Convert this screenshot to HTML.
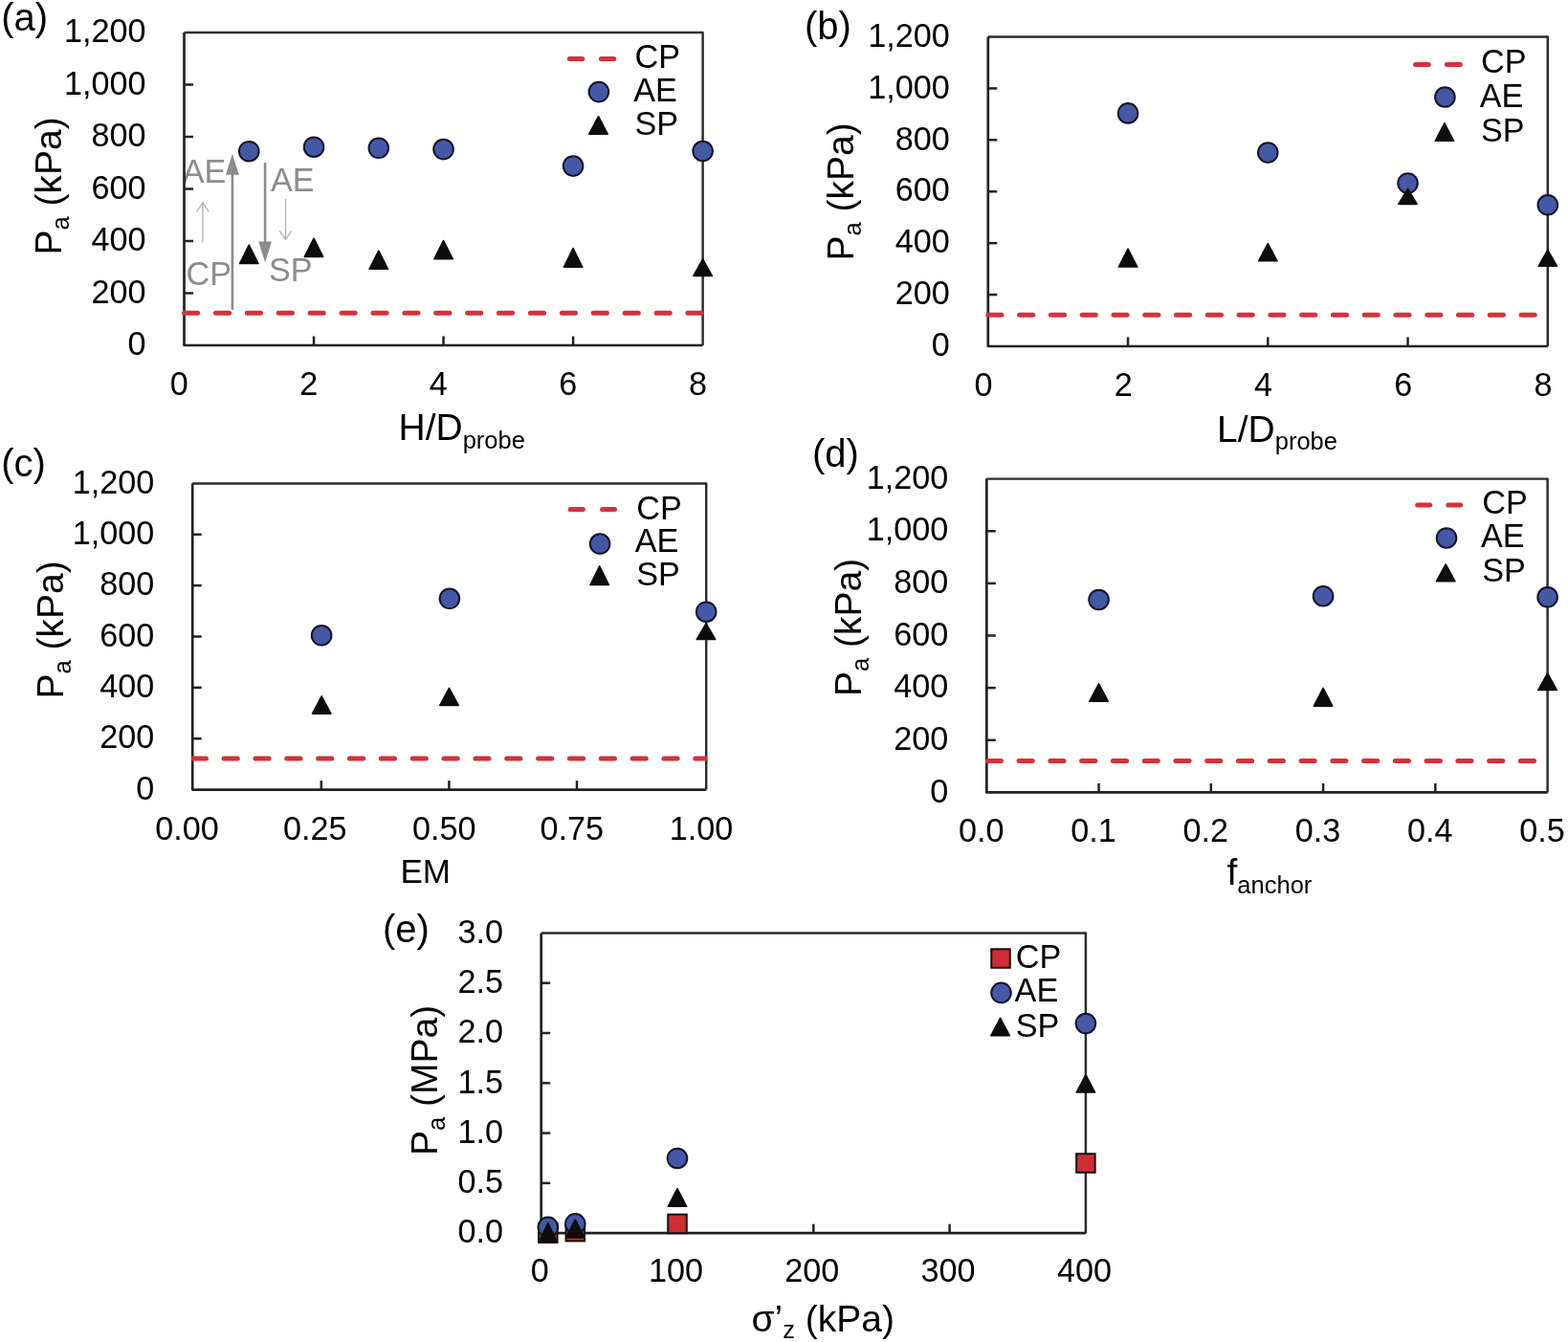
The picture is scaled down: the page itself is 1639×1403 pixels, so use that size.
<!DOCTYPE html>
<html><head><meta charset="utf-8"><title>Figure</title>
<style>html,body{margin:0;padding:0;background:#fff;}body{width:1639px;height:1403px;overflow:hidden;}svg{display:block;}</style>
</head><body>
<svg width="1639" height="1403" viewBox="0 0 1639 1403" font-family='"Liberation Sans", Arial, Helvetica, sans-serif'>
<rect width="1639" height="1403" fill="#fff"/>
<g fill="#8c8c8c" font-size="34.2">
<text x="236.3" y="190.6" text-anchor="end">AE</text><text x="194.6" y="298.4">CP</text>
<text x="283.0" y="200.3">AE</text><text x="280.9" y="293.6">SP</text>
</g>
<line x1="242.9" y1="323.9" x2="242.9" y2="180" stroke="#8c8c8c" stroke-width="2.6"/>
<polygon points="242.9,160.8 249.8,182.8 236.0,182.8" fill="#8c8c8c"/>
<line x1="277.1" y1="170.2" x2="277.1" y2="256" stroke="#8c8c8c" stroke-width="2.6"/>
<polygon points="277.1,274.6 270.3,252.6 283.9,252.6" fill="#8c8c8c"/>
<path d="M211.9,253.6 V211.8 M205.6,221.5 L211.9,211.8 L218.2,221.5" fill="none" stroke="#b2b2b2" stroke-width="1.3"/>
<path d="M298.5,208.1 V250.4 M292.2,241.3 L298.5,250.4 L304.8,241.3" fill="none" stroke="#b2b2b2" stroke-width="1.3"/>
<path d="M192.5,34.0 H734.60 V361.00" fill="none" stroke="#2c2c2c" stroke-width="2.45" stroke-linejoin="round"/>
<path d="M734.60,361.00 H192.5 V34.0" fill="none" stroke="#222" stroke-width="2.7" stroke-linejoin="round"/>
<line x1="192.5" y1="306.50" x2="202.0" y2="306.50" stroke="#222" stroke-width="2.5"/>
<line x1="192.5" y1="252.00" x2="202.0" y2="252.00" stroke="#222" stroke-width="2.5"/>
<line x1="192.5" y1="197.50" x2="202.0" y2="197.50" stroke="#222" stroke-width="2.5"/>
<line x1="192.5" y1="143.00" x2="202.0" y2="143.00" stroke="#222" stroke-width="2.5"/>
<line x1="192.5" y1="88.50" x2="202.0" y2="88.50" stroke="#222" stroke-width="2.5"/>
<line x1="328.02" y1="361.0" x2="328.02" y2="351.5" stroke="#222" stroke-width="2.5"/>
<line x1="463.55" y1="361.0" x2="463.55" y2="351.5" stroke="#222" stroke-width="2.5"/>
<line x1="599.08" y1="361.0" x2="599.08" y2="351.5" stroke="#222" stroke-width="2.5"/>
<clipPath id="c1"><rect x="189.50" y="322.3" width="546.30" height="10"/></clipPath>
<line clip-path="url(#c1)" x1="192.50" y1="327.3" x2="734.60" y2="327.3" stroke="#d3323b" stroke-width="5" stroke-linecap="round" stroke-dasharray="14.20 18.70" stroke-dashoffset="0"/>
<circle cx="260.26" cy="158.20" r="10.3" fill="#4558a6" stroke="#141428" stroke-width="2"/>
<circle cx="328.02" cy="153.70" r="10.3" fill="#4558a6" stroke="#141428" stroke-width="2"/>
<circle cx="395.79" cy="154.80" r="10.3" fill="#4558a6" stroke="#141428" stroke-width="2"/>
<circle cx="463.55" cy="156.10" r="10.3" fill="#4558a6" stroke="#141428" stroke-width="2"/>
<circle cx="599.08" cy="173.60" r="10.3" fill="#4558a6" stroke="#141428" stroke-width="2"/>
<circle cx="734.60" cy="158.00" r="10.3" fill="#4558a6" stroke="#141428" stroke-width="2"/>
<polygon points="260.26,256.20 269.96,275.50 250.56,275.50" fill="#0d0d0d" stroke="#0d0d0d" stroke-width="1.6" stroke-linejoin="round"/>
<polygon points="328.02,249.20 337.72,268.50 318.32,268.50" fill="#0d0d0d" stroke="#0d0d0d" stroke-width="1.6" stroke-linejoin="round"/>
<polygon points="395.79,262.10 405.49,281.30 386.09,281.30" fill="#0d0d0d" stroke="#0d0d0d" stroke-width="1.6" stroke-linejoin="round"/>
<polygon points="463.55,251.50 473.25,270.80 453.85,270.80" fill="#0d0d0d" stroke="#0d0d0d" stroke-width="1.6" stroke-linejoin="round"/>
<polygon points="599.08,259.60 608.78,279.30 589.38,279.30" fill="#0d0d0d" stroke="#0d0d0d" stroke-width="1.6" stroke-linejoin="round"/>
<polygon points="734.60,270.80 744.30,288.50 724.90,288.50" fill="#0d0d0d" stroke="#0d0d0d" stroke-width="1.6" stroke-linejoin="round"/>
<line x1="595.40" y1="61.6" x2="608.80" y2="61.6" stroke="#d3323b" stroke-width="5" stroke-linecap="round"/>
<line x1="628.40" y1="61.6" x2="641.70" y2="61.6" stroke="#d3323b" stroke-width="5" stroke-linecap="round"/>
<circle cx="625.90" cy="96.10" r="10.3" fill="#4558a6" stroke="#141428" stroke-width="2"/>
<polygon points="625.50,121.70 635.20,140.20 615.80,140.20" fill="#0d0d0d" stroke="#0d0d0d" stroke-width="1.6" stroke-linejoin="round"/>
<text x="663.50" y="70.90" font-size="34.2" text-anchor="start" fill="#000">CP</text>
<text x="662.30" y="106.10" font-size="34.2" text-anchor="start" fill="#000">AE</text>
<text x="663.50" y="140.80" font-size="34.2" text-anchor="start" fill="#000">SP</text>
<text x="152.50" y="371.20" font-size="34.2" text-anchor="end" fill="#000">0</text>
<text x="152.50" y="316.70" font-size="34.2" text-anchor="end" fill="#000">200</text>
<text x="152.50" y="262.20" font-size="34.2" text-anchor="end" fill="#000">400</text>
<text x="152.50" y="207.70" font-size="34.2" text-anchor="end" fill="#000">600</text>
<text x="152.50" y="153.20" font-size="34.2" text-anchor="end" fill="#000">800</text>
<text x="152.50" y="98.70" font-size="34.2" text-anchor="end" fill="#000">1,000</text>
<text x="152.50" y="44.20" font-size="34.2" text-anchor="end" fill="#000">1,200</text>
<text x="187.30" y="413.20" font-size="34.2" text-anchor="middle" fill="#000">0</text>
<text x="322.82" y="413.20" font-size="34.2" text-anchor="middle" fill="#000">2</text>
<text x="458.35" y="413.20" font-size="34.2" text-anchor="middle" fill="#000">4</text>
<text x="593.88" y="413.20" font-size="34.2" text-anchor="middle" fill="#000">6</text>
<text x="729.40" y="413.20" font-size="34.2" text-anchor="middle" fill="#000">8</text>
<text x="1.30" y="31.90" font-size="40" text-anchor="start" fill="#000">(a)</text>
<text transform="translate(64.20,266.50) rotate(-90)" font-size="39" fill="#000">P<tspan font-size="25.5" dy="8">a</tspan><tspan dy="-8"> (kPa)</tspan></text>
<text x="416.5" y="460" font-size="39">H/D<tspan font-size="25.5" dy="8.5">probe</tspan></text>
<path d="M1032.8,38.5 H1617.80 V362.00" fill="none" stroke="#2c2c2c" stroke-width="2.45" stroke-linejoin="round"/>
<path d="M1617.80,362.00 H1032.8 V38.5" fill="none" stroke="#222" stroke-width="2.7" stroke-linejoin="round"/>
<line x1="1032.8" y1="308.08" x2="1042.3" y2="308.08" stroke="#222" stroke-width="2.5"/>
<line x1="1032.8" y1="254.17" x2="1042.3" y2="254.17" stroke="#222" stroke-width="2.5"/>
<line x1="1032.8" y1="200.25" x2="1042.3" y2="200.25" stroke="#222" stroke-width="2.5"/>
<line x1="1032.8" y1="146.33" x2="1042.3" y2="146.33" stroke="#222" stroke-width="2.5"/>
<line x1="1032.8" y1="92.42" x2="1042.3" y2="92.42" stroke="#222" stroke-width="2.5"/>
<line x1="1179.05" y1="362.0" x2="1179.05" y2="352.5" stroke="#222" stroke-width="2.5"/>
<line x1="1325.30" y1="362.0" x2="1325.30" y2="352.5" stroke="#222" stroke-width="2.5"/>
<line x1="1471.55" y1="362.0" x2="1471.55" y2="352.5" stroke="#222" stroke-width="2.5"/>
<clipPath id="c2"><rect x="1029.80" y="324.3" width="589.20" height="10"/></clipPath>
<line clip-path="url(#c2)" x1="1032.80" y1="329.3" x2="1617.80" y2="329.3" stroke="#d3323b" stroke-width="5" stroke-linecap="round" stroke-dasharray="14.20 18.58" stroke-dashoffset="0"/>
<circle cx="1179.05" cy="118.40" r="10.3" fill="#4558a6" stroke="#141428" stroke-width="2"/>
<circle cx="1325.30" cy="159.60" r="10.3" fill="#4558a6" stroke="#141428" stroke-width="2"/>
<circle cx="1471.55" cy="191.60" r="10.3" fill="#4558a6" stroke="#141428" stroke-width="2"/>
<circle cx="1617.80" cy="214.30" r="10.3" fill="#4558a6" stroke="#141428" stroke-width="2"/>
<polygon points="1179.05,260.10 1188.75,279.00 1169.35,279.00" fill="#0d0d0d" stroke="#0d0d0d" stroke-width="1.6" stroke-linejoin="round"/>
<polygon points="1325.30,254.50 1335.00,272.80 1315.60,272.80" fill="#0d0d0d" stroke="#0d0d0d" stroke-width="1.6" stroke-linejoin="round"/>
<polygon points="1471.55,197.30 1481.25,213.50 1461.85,213.50" fill="#0d0d0d" stroke="#0d0d0d" stroke-width="1.6" stroke-linejoin="round"/>
<polygon points="1617.80,261.40 1627.50,278.30 1608.10,278.30" fill="#0d0d0d" stroke="#0d0d0d" stroke-width="1.6" stroke-linejoin="round"/>
<line x1="1479.50" y1="67.4" x2="1493.30" y2="67.4" stroke="#d3323b" stroke-width="5" stroke-linecap="round"/>
<line x1="1512.40" y1="67.4" x2="1526.30" y2="67.4" stroke="#d3323b" stroke-width="5" stroke-linecap="round"/>
<circle cx="1510.40" cy="101.50" r="10.3" fill="#4558a6" stroke="#141428" stroke-width="2"/>
<polygon points="1509.90,128.80 1519.60,147.30 1500.20,147.30" fill="#0d0d0d" stroke="#0d0d0d" stroke-width="1.6" stroke-linejoin="round"/>
<text x="1548.00" y="76.00" font-size="34.2" text-anchor="start" fill="#000">CP</text>
<text x="1546.80" y="112.00" font-size="34.2" text-anchor="start" fill="#000">AE</text>
<text x="1548.00" y="148.40" font-size="34.2" text-anchor="start" fill="#000">SP</text>
<text x="992.80" y="372.20" font-size="34.2" text-anchor="end" fill="#000">0</text>
<text x="992.80" y="318.28" font-size="34.2" text-anchor="end" fill="#000">200</text>
<text x="992.80" y="264.37" font-size="34.2" text-anchor="end" fill="#000">400</text>
<text x="992.80" y="210.45" font-size="34.2" text-anchor="end" fill="#000">600</text>
<text x="992.80" y="156.53" font-size="34.2" text-anchor="end" fill="#000">800</text>
<text x="992.80" y="102.62" font-size="34.2" text-anchor="end" fill="#000">1,000</text>
<text x="992.80" y="48.70" font-size="34.2" text-anchor="end" fill="#000">1,200</text>
<text x="1028.00" y="413.50" font-size="34.2" text-anchor="middle" fill="#000">0</text>
<text x="1174.25" y="413.50" font-size="34.2" text-anchor="middle" fill="#000">2</text>
<text x="1320.50" y="413.50" font-size="34.2" text-anchor="middle" fill="#000">4</text>
<text x="1466.75" y="413.50" font-size="34.2" text-anchor="middle" fill="#000">6</text>
<text x="1613.00" y="413.50" font-size="34.2" text-anchor="middle" fill="#000">8</text>
<text x="841.00" y="40.70" font-size="40" text-anchor="start" fill="#000">(b)</text>
<text transform="translate(892.00,272.50) rotate(-90)" font-size="39" fill="#000">P<tspan font-size="25.5" dy="8">a</tspan><tspan dy="-8"> (kPa)</tspan></text>
<text x="1272" y="461.5" font-size="39">L/D<tspan font-size="25.5" dy="8.5">probe</tspan></text>
<path d="M201.2,505.4 H738.20 V825.60" fill="none" stroke="#2c2c2c" stroke-width="2.45" stroke-linejoin="round"/>
<path d="M738.20,825.60 H201.2 V505.4" fill="none" stroke="#222" stroke-width="2.7" stroke-linejoin="round"/>
<line x1="201.2" y1="772.23" x2="210.7" y2="772.23" stroke="#222" stroke-width="2.5"/>
<line x1="201.2" y1="718.87" x2="210.7" y2="718.87" stroke="#222" stroke-width="2.5"/>
<line x1="201.2" y1="665.50" x2="210.7" y2="665.50" stroke="#222" stroke-width="2.5"/>
<line x1="201.2" y1="612.13" x2="210.7" y2="612.13" stroke="#222" stroke-width="2.5"/>
<line x1="201.2" y1="558.77" x2="210.7" y2="558.77" stroke="#222" stroke-width="2.5"/>
<line x1="335.80" y1="825.6" x2="335.80" y2="816.1" stroke="#222" stroke-width="2.5"/>
<line x1="469.40" y1="825.6" x2="469.40" y2="816.1" stroke="#222" stroke-width="2.5"/>
<line x1="603.00" y1="825.6" x2="603.00" y2="816.1" stroke="#222" stroke-width="2.5"/>
<clipPath id="c3"><rect x="199.90" y="788.0" width="539.50" height="10"/></clipPath>
<line clip-path="url(#c3)" x1="201.20" y1="793.0" x2="738.20" y2="793.0" stroke="#d3323b" stroke-width="5" stroke-linecap="round" stroke-dasharray="14.20 18.65" stroke-dashoffset="0"/>
<circle cx="336.10" cy="664.30" r="10.3" fill="#4558a6" stroke="#141428" stroke-width="2"/>
<circle cx="469.90" cy="625.80" r="10.3" fill="#4558a6" stroke="#141428" stroke-width="2"/>
<circle cx="738.20" cy="639.70" r="10.3" fill="#4558a6" stroke="#141428" stroke-width="2"/>
<polygon points="336.20,727.90 345.90,746.10 326.50,746.10" fill="#0d0d0d" stroke="#0d0d0d" stroke-width="1.6" stroke-linejoin="round"/>
<polygon points="469.50,719.40 479.20,737.50 459.80,737.50" fill="#0d0d0d" stroke="#0d0d0d" stroke-width="1.6" stroke-linejoin="round"/>
<polygon points="738.00,652.00 747.70,668.50 728.30,668.50" fill="#0d0d0d" stroke="#0d0d0d" stroke-width="1.6" stroke-linejoin="round"/>
<line x1="596.20" y1="532.4" x2="609.30" y2="532.4" stroke="#d3323b" stroke-width="5" stroke-linecap="round"/>
<line x1="629.60" y1="532.4" x2="642.50" y2="532.4" stroke="#d3323b" stroke-width="5" stroke-linecap="round"/>
<circle cx="627.10" cy="568.60" r="10.3" fill="#4558a6" stroke="#141428" stroke-width="2"/>
<polygon points="626.70,591.80 636.40,611.50 617.00,611.50" fill="#0d0d0d" stroke="#0d0d0d" stroke-width="1.6" stroke-linejoin="round"/>
<text x="665.20" y="542.50" font-size="34.2" text-anchor="start" fill="#000">CP</text>
<text x="663.70" y="576.80" font-size="34.2" text-anchor="start" fill="#000">AE</text>
<text x="665.20" y="612.00" font-size="34.2" text-anchor="start" fill="#000">SP</text>
<text x="161.30" y="835.80" font-size="34.2" text-anchor="end" fill="#000">0</text>
<text x="161.30" y="782.43" font-size="34.2" text-anchor="end" fill="#000">200</text>
<text x="161.30" y="729.07" font-size="34.2" text-anchor="end" fill="#000">400</text>
<text x="161.30" y="675.70" font-size="34.2" text-anchor="end" fill="#000">600</text>
<text x="161.30" y="622.33" font-size="34.2" text-anchor="end" fill="#000">800</text>
<text x="161.30" y="568.97" font-size="34.2" text-anchor="end" fill="#000">1,000</text>
<text x="161.30" y="515.60" font-size="34.2" text-anchor="end" fill="#000">1,200</text>
<text x="195.60" y="878.30" font-size="34.2" text-anchor="middle" fill="#000">0.00</text>
<text x="329.20" y="878.30" font-size="34.2" text-anchor="middle" fill="#000">0.25</text>
<text x="464.30" y="878.30" font-size="34.2" text-anchor="middle" fill="#000">0.50</text>
<text x="597.70" y="878.30" font-size="34.2" text-anchor="middle" fill="#000">0.75</text>
<text x="733.00" y="878.30" font-size="34.2" text-anchor="middle" fill="#000">1.00</text>
<text x="1.30" y="497.60" font-size="40" text-anchor="start" fill="#000">(c)</text>
<text transform="translate(65.80,730.50) rotate(-90)" font-size="39" fill="#000">P<tspan font-size="25.5" dy="8">a</tspan><tspan dy="-8"> (kPa)</tspan></text>
<text x="418.50" y="922.60" font-size="35" text-anchor="start" fill="#000">EM</text>
<path d="M1031.3,500.6 H1617.60 V828.40" fill="none" stroke="#2c2c2c" stroke-width="2.45" stroke-linejoin="round"/>
<path d="M1617.60,828.40 H1031.3 V500.6" fill="none" stroke="#222" stroke-width="2.7" stroke-linejoin="round"/>
<line x1="1031.3" y1="773.77" x2="1040.8" y2="773.77" stroke="#222" stroke-width="2.5"/>
<line x1="1031.3" y1="719.13" x2="1040.8" y2="719.13" stroke="#222" stroke-width="2.5"/>
<line x1="1031.3" y1="664.50" x2="1040.8" y2="664.50" stroke="#222" stroke-width="2.5"/>
<line x1="1031.3" y1="609.87" x2="1040.8" y2="609.87" stroke="#222" stroke-width="2.5"/>
<line x1="1031.3" y1="555.23" x2="1040.8" y2="555.23" stroke="#222" stroke-width="2.5"/>
<line x1="1148.56" y1="828.4" x2="1148.56" y2="818.9" stroke="#222" stroke-width="2.5"/>
<line x1="1265.82" y1="828.4" x2="1265.82" y2="818.9" stroke="#222" stroke-width="2.5"/>
<line x1="1383.08" y1="828.4" x2="1383.08" y2="818.9" stroke="#222" stroke-width="2.5"/>
<line x1="1500.34" y1="828.4" x2="1500.34" y2="818.9" stroke="#222" stroke-width="2.5"/>
<clipPath id="c4"><rect x="1030.00" y="790.6" width="588.80" height="10"/></clipPath>
<line clip-path="url(#c4)" x1="1031.30" y1="795.6" x2="1617.60" y2="795.6" stroke="#d3323b" stroke-width="5" stroke-linecap="round" stroke-dasharray="14.20 18.57" stroke-dashoffset="-1"/>
<circle cx="1148.56" cy="627.00" r="10.3" fill="#4558a6" stroke="#141428" stroke-width="2"/>
<circle cx="1383.08" cy="623.20" r="10.3" fill="#4558a6" stroke="#141428" stroke-width="2"/>
<circle cx="1617.60" cy="624.30" r="10.3" fill="#4558a6" stroke="#141428" stroke-width="2"/>
<polygon points="1148.56,714.90 1158.26,733.20 1138.86,733.20" fill="#0d0d0d" stroke="#0d0d0d" stroke-width="1.6" stroke-linejoin="round"/>
<polygon points="1383.08,719.30 1392.78,738.10 1373.38,738.10" fill="#0d0d0d" stroke="#0d0d0d" stroke-width="1.6" stroke-linejoin="round"/>
<polygon points="1617.60,703.80 1627.30,721.50 1607.90,721.50" fill="#0d0d0d" stroke="#0d0d0d" stroke-width="1.6" stroke-linejoin="round"/>
<line x1="1481.70" y1="528.0" x2="1494.70" y2="528.0" stroke="#d3323b" stroke-width="5" stroke-linecap="round"/>
<line x1="1513.80" y1="528.0" x2="1526.70" y2="528.0" stroke="#d3323b" stroke-width="5" stroke-linecap="round"/>
<circle cx="1512.00" cy="562.50" r="10.3" fill="#4558a6" stroke="#141428" stroke-width="2"/>
<polygon points="1511.20,590.00 1520.90,607.70 1501.50,607.70" fill="#0d0d0d" stroke="#0d0d0d" stroke-width="1.6" stroke-linejoin="round"/>
<text x="1549.20" y="537.00" font-size="34.2" text-anchor="start" fill="#000">CP</text>
<text x="1548.00" y="572.40" font-size="34.2" text-anchor="start" fill="#000">AE</text>
<text x="1549.20" y="607.50" font-size="34.2" text-anchor="start" fill="#000">SP</text>
<text x="991.30" y="838.60" font-size="34.2" text-anchor="end" fill="#000">0</text>
<text x="991.30" y="783.97" font-size="34.2" text-anchor="end" fill="#000">200</text>
<text x="991.30" y="729.33" font-size="34.2" text-anchor="end" fill="#000">400</text>
<text x="991.30" y="674.70" font-size="34.2" text-anchor="end" fill="#000">600</text>
<text x="991.30" y="620.07" font-size="34.2" text-anchor="end" fill="#000">800</text>
<text x="991.30" y="565.43" font-size="34.2" text-anchor="end" fill="#000">1,000</text>
<text x="991.30" y="510.80" font-size="34.2" text-anchor="end" fill="#000">1,200</text>
<text x="1025.80" y="880.00" font-size="34.2" text-anchor="middle" fill="#000">0.0</text>
<text x="1143.06" y="880.00" font-size="34.2" text-anchor="middle" fill="#000">0.1</text>
<text x="1260.32" y="880.00" font-size="34.2" text-anchor="middle" fill="#000">0.2</text>
<text x="1377.58" y="880.00" font-size="34.2" text-anchor="middle" fill="#000">0.3</text>
<text x="1494.84" y="880.00" font-size="34.2" text-anchor="middle" fill="#000">0.4</text>
<text x="1612.10" y="880.00" font-size="34.2" text-anchor="middle" fill="#000">0.5</text>
<text x="849.00" y="488.00" font-size="40" text-anchor="start" fill="#000">(d)</text>
<text transform="translate(899.90,728.00) rotate(-90)" font-size="39" fill="#000">P<tspan font-size="25.5" dy="8">a</tspan><tspan dy="-8"> (kPa)</tspan></text>
<text x="1282.5" y="925" font-size="39">f<tspan font-size="25.5" dy="8.5">anchor</tspan></text>
<path d="M565.7,975.4 H1134.90 V1289.20" fill="none" stroke="#2c2c2c" stroke-width="2.45" stroke-linejoin="round"/>
<path d="M1134.90,1289.20 H565.7 V975.4" fill="none" stroke="#222" stroke-width="2.7" stroke-linejoin="round"/>
<line x1="565.7" y1="1236.90" x2="575.2" y2="1236.90" stroke="#222" stroke-width="2.5"/>
<line x1="565.7" y1="1184.60" x2="575.2" y2="1184.60" stroke="#222" stroke-width="2.5"/>
<line x1="565.7" y1="1132.30" x2="575.2" y2="1132.30" stroke="#222" stroke-width="2.5"/>
<line x1="565.7" y1="1080.00" x2="575.2" y2="1080.00" stroke="#222" stroke-width="2.5"/>
<line x1="565.7" y1="1027.70" x2="575.2" y2="1027.70" stroke="#222" stroke-width="2.5"/>
<line x1="708.00" y1="1289.2" x2="708.00" y2="1279.7" stroke="#222" stroke-width="2.5"/>
<line x1="850.30" y1="1289.2" x2="850.30" y2="1279.7" stroke="#222" stroke-width="2.5"/>
<line x1="992.60" y1="1289.2" x2="992.60" y2="1279.7" stroke="#222" stroke-width="2.5"/>
<rect x="563.07" y="1279.25" width="19.5" height="19.5" fill="#cf2d34" stroke="#111" stroke-width="2"/>
<rect x="591.53" y="1277.95" width="19.5" height="19.5" fill="#cf2d34" stroke="#111" stroke-width="2"/>
<rect x="698.25" y="1269.65" width="19.5" height="19.5" fill="#cf2d34" stroke="#111" stroke-width="2"/>
<rect x="1125.15" y="1206.25" width="19.5" height="19.5" fill="#cf2d34" stroke="#111" stroke-width="2"/>
<circle cx="572.82" cy="1282.90" r="10.3" fill="#4558a6" stroke="#141428" stroke-width="2"/>
<circle cx="601.28" cy="1279.40" r="10.3" fill="#4558a6" stroke="#141428" stroke-width="2"/>
<circle cx="708.00" cy="1211.00" r="10.3" fill="#4558a6" stroke="#141428" stroke-width="2"/>
<circle cx="1134.90" cy="1070.00" r="10.3" fill="#4558a6" stroke="#141428" stroke-width="2"/>
<polygon points="572.82,1278.60 582.52,1299.20 563.12,1299.20" fill="#0d0d0d" stroke="#0d0d0d" stroke-width="1.6" stroke-linejoin="round"/>
<polygon points="601.28,1275.10 610.98,1294.00 591.58,1294.00" fill="#0d0d0d" stroke="#0d0d0d" stroke-width="1.6" stroke-linejoin="round"/>
<polygon points="708.00,1242.60 717.70,1261.30 698.30,1261.30" fill="#0d0d0d" stroke="#0d0d0d" stroke-width="1.6" stroke-linejoin="round"/>
<polygon points="1134.90,1123.70 1144.60,1142.00 1125.20,1142.00" fill="#0d0d0d" stroke="#0d0d0d" stroke-width="1.6" stroke-linejoin="round"/>
<rect x="1036.25" y="992.25" width="19.5" height="19.5" fill="#cf2d34" stroke="#111" stroke-width="2"/>
<circle cx="1046.50" cy="1037.90" r="10.3" fill="#4558a6" stroke="#141428" stroke-width="2"/>
<polygon points="1045.60,1064.40 1055.30,1082.70 1035.90,1082.70" fill="#0d0d0d" stroke="#0d0d0d" stroke-width="1.6" stroke-linejoin="round"/>
<text x="1061.80" y="1012.00" font-size="34.2" text-anchor="start" fill="#000">CP</text>
<text x="1060.60" y="1047.30" font-size="34.2" text-anchor="start" fill="#000">AE</text>
<text x="1061.80" y="1083.60" font-size="34.2" text-anchor="start" fill="#000">SP</text>
<text x="526.00" y="1299.40" font-size="34.2" text-anchor="end" fill="#000">0.0</text>
<text x="526.00" y="1247.10" font-size="34.2" text-anchor="end" fill="#000">0.5</text>
<text x="526.00" y="1194.80" font-size="34.2" text-anchor="end" fill="#000">1.0</text>
<text x="526.00" y="1142.50" font-size="34.2" text-anchor="end" fill="#000">1.5</text>
<text x="526.00" y="1090.20" font-size="34.2" text-anchor="end" fill="#000">2.0</text>
<text x="526.00" y="1037.90" font-size="34.2" text-anchor="end" fill="#000">2.5</text>
<text x="526.00" y="985.60" font-size="34.2" text-anchor="end" fill="#000">3.0</text>
<text x="564.20" y="1340.00" font-size="34.2" text-anchor="middle" fill="#000">0</text>
<text x="706.50" y="1340.00" font-size="34.2" text-anchor="middle" fill="#000">100</text>
<text x="848.80" y="1340.00" font-size="34.2" text-anchor="middle" fill="#000">200</text>
<text x="991.10" y="1340.00" font-size="34.2" text-anchor="middle" fill="#000">300</text>
<text x="1133.40" y="1340.00" font-size="34.2" text-anchor="middle" fill="#000">400</text>
<text x="400.00" y="985.00" font-size="40" text-anchor="start" fill="#000">(e)</text>
<text transform="translate(456.70,1208.00) rotate(-90)" font-size="39" fill="#000">P<tspan font-size="25.5" dy="8">a</tspan><tspan dy="-8"> (MPa)</tspan></text>
<text x="785.5" y="1391.7" font-size="39">σ’<tspan font-size="25.5" dy="7.5">z</tspan><tspan dy="-7.5"> (kPa)</tspan></text>
</svg>
</body></html>
